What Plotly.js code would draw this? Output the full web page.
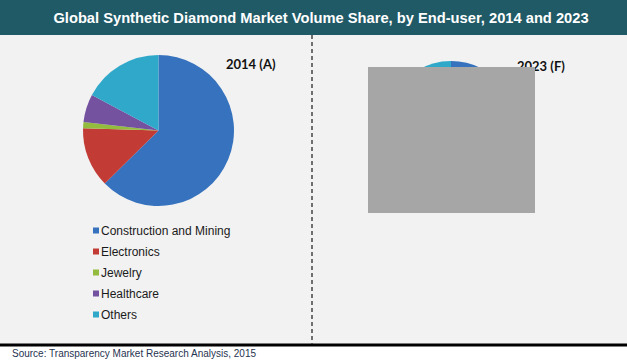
<!DOCTYPE html>
<html><head><meta charset="utf-8">
<script src="https://cdn.plot.ly/plotly-3.0.1.min.js"></script>
<style>html,body{margin:0;padding:0;background:#f2f2f2}</style>
</head><body><div id="chart" style="width:627px;height:361px"></div>
<script>
// ---- data ----
const categories = ['Construction and Mining', 'Electronics', 'Jewelry', 'Healthcare', 'Others'];
const share2014 = [62.6, 12.9, 1.3, 6.0, 17.2];
const share2023 = [60.5, 14.0, 1.5, 6.5, 17.5];
const yearLabels = ['2014 (A)', '2023 (F)'];
const chartTitle = 'Global Synthetic Diamond Market Volume Share, by End-user, 2014 and 2023';
const sourceText = 'Source: Transparency Market Research Analysis, 2015';

// ---- style ----
const W = 627, H = 361;
const X = px => px / W;
const Y = py => 1 - py / H;
const colors = ['#3672bd', '#c23b35', '#93bb3e', '#7452a0', '#2fa8c9'];
const arial = 'Arial, "Liberation Sans", sans-serif';

const pie = (vals, dom, legendId) => ({
  type: 'pie', labels: categories, values: vals, sort: false,
  direction: 'clockwise', rotation: 0, textinfo: 'none', hoverinfo: 'label+percent',
  marker: {colors: colors, line: {width: 0}},
  domain: dom, legend: legendId, showlegend: true
});

const traces = [
  pie(share2014, {x: [X(83), X(234)], y: [Y(206), Y(55)]}, 'legend'),
  pie(share2023, {x: [X(385), X(517)], y: [Y(193), Y(61)]}, 'legend2')
];

const legendStyle = (xpx) => ({
  x: X(xpx), xanchor: 'left', y: Y(216), yanchor: 'top',
  bgcolor: 'rgba(0,0,0,0)', borderwidth: 0,
  font: {family: arial, size: 12, color: '#1a1a1a'},
  itemclick: false, itemdoubleclick: false
});

const layout = {
  width: W, height: H, margin: {l: 0, r: 0, t: 0, b: 0},
  paper_bgcolor: '#f2f2f2', plot_bgcolor: '#f2f2f2',
  title: {text: chartTitle, font: {family: arial, size: 14.7, color: '#ffffff', weight: 'bold'},
          x: X(321), xanchor: 'center', xref: 'paper', y: Y(18), yanchor: 'middle', yref: 'paper'},
  legend: legendStyle(61),
  legend2: legendStyle(353),
  shapes: [
    {type: 'rect', xref: 'paper', yref: 'paper', x0: 0, x1: 1, y0: Y(35), y1: 1,
     fillcolor: '#205a67', line: {width: 0}, layer: 'below'},
    {type: 'rect', xref: 'paper', yref: 'paper', x0: 0, x1: 1, y0: 0, y1: Y(345),
     fillcolor: '#ffffff', line: {width: 0}, layer: 'below'},
    {type: 'line', xref: 'paper', yref: 'paper', x0: 0, x1: 1, y0: Y(345), y1: Y(345),
     line: {color: '#000000', width: 3}, layer: 'below'},
    {type: 'line', xref: 'paper', yref: 'paper', x0: X(312), x1: X(312), y0: Y(35), y1: Y(344),
     line: {color: '#444444', width: 1.5, dash: '4px,3px'}, layer: 'below'}
  ],
  annotations: [
    {text: '<b>' + yearLabels[0] + '</b>', xref: 'paper', yref: 'paper', x: X(251), y: Y(64),
     xanchor: 'center', yanchor: 'middle', showarrow: false,
     font: {family: 'Lato, "Open Sans", sans-serif', size: 13, color: '#111'}},
    {text: '<b>' + yearLabels[1] + '</b>', xref: 'paper', yref: 'paper', x: X(541), y: Y(66),
     xanchor: 'center', yanchor: 'middle', showarrow: false,
     font: {family: 'Lato, "Open Sans", sans-serif', size: 13, color: '#111'}},
    // grey covering block (drawn after the 2023 label so it covers it)
    {text: ' ', xref: 'paper', yref: 'paper', x: X(368), y: Y(67), xanchor: 'left', yanchor: 'top',
     width: 167, height: 146, bgcolor: '#a6a6a6', borderpad: 0, borderwidth: 0, showarrow: false},
    {text: sourceText, xref: 'paper', yref: 'paper', x: X(10), y: Y(353),
     xanchor: 'left', yanchor: 'middle', showarrow: false,
     font: {family: arial, size: 10, color: '#1f3450'}}
  ]
};

Plotly.newPlot('chart', traces, layout, {displayModeBar: false, staticPlot: true}).then(() => {
  document.querySelectorAll('g.legend, g.legend2').forEach(lg => {
    const sb = lg.querySelector('.scrollbox');
    if (sb) sb.removeAttribute('clip-path');
    const items = lg.querySelectorAll('g.traces');
    let y0 = null;
    items.forEach((it, i) => {
      const m = /translate\(\s*([-\d.]+)[ ,]+([-\d.]+)\)/.exec(it.getAttribute('transform') || '');
      if (!m) return;
      if (y0 === null) y0 = parseFloat(m[2]);
      it.setAttribute('transform', 'translate(' + m[1] + ',' + (y0 + 21 * i) + ')');
    });
    lg.querySelectorAll('path.legendpie').forEach(p => {
      p.setAttribute('transform', 'translate(35,0) scale(0.5)');
    });
  });
});
</script>
</body></html>
